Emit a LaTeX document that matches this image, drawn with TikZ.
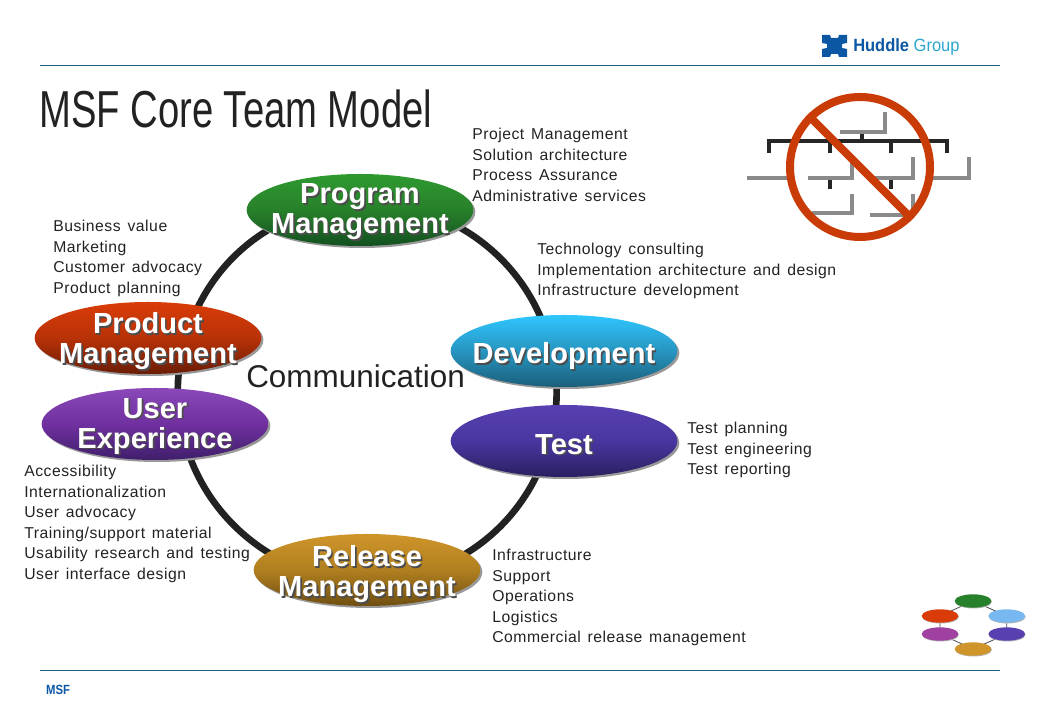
\documentclass[tikz,border=0pt]{standalone}
\usepackage{fontspec}
\setmainfont{Liberation Sans}
\newfontfamily\factfont{Liberation Sans}[LetterSpace=3.3,WordSpace=1.4]
\usetikzlibrary{shapes.geometric,shadows,backgrounds}
\definecolor{rulecol}{HTML}{1F5F80}
\definecolor{ringcol}{HTML}{222222}
\definecolor{signcol}{HTML}{C93C08}
\definecolor{orgcol}{HTML}{8A8A8A}
\definecolor{logocol}{HTML}{0B57A4}
\definecolor{logolight}{HTML}{2AA5CF}
\definecolor{bodycol}{HTML}{222222}
\definecolor{progtop}{HTML}{2F9A30}
\definecolor{progmid}{HTML}{27802A}
\definecolor{progbot}{HTML}{135020}
\definecolor{prodtop}{HTML}{D93C08}
\definecolor{prodmid}{HTML}{B83208}
\definecolor{prodbot}{HTML}{6A1C05}
\definecolor{usertop}{HTML}{8A48B8}
\definecolor{usermid}{HTML}{7030A0}
\definecolor{userbot}{HTML}{3F1F6B}
\definecolor{devtop}{HTML}{2FC6FF}
\definecolor{devmid}{HTML}{2795C0}
\definecolor{devbot}{HTML}{1A5F7A}
\definecolor{testtop}{HTML}{5840B0}
\definecolor{testmid}{HTML}{4A36A0}
\definecolor{testbot}{HTML}{2A1F60}
\definecolor{reltop}{HTML}{CF952A}
\definecolor{relmid}{HTML}{B07F20}
\definecolor{relbot}{HTML}{6F4E10}
\definecolor{minisky}{HTML}{78B8F0}
\definecolor{minipurple}{HTML}{A040A0}
\newcommand{\teamline}[2][-1.5pt]{\leavevmode\raisebox{#1}[\height][\depth]{\rlap{\kern1.2pt\raisebox{-1.2pt}{\textcolor{black!70}{#2}}}#2}}
\tikzset{
 team/.style={ellipse,inner xsep=-15pt,inner ysep=-15pt,minimum width=170pt,minimum height=54pt,text=white,align=center,
   font=\fontsize{21.8}{22.5}\selectfont\bfseries,
   copy shadow={shadow xshift=1.5pt,shadow yshift=-1.5pt,fill=black!40,draw=none}},
 facts/.style={anchor=north west,inner sep=0pt,align=left,text=bodycol,font=\factfont\fontsize{11.8}{15.4}\selectfont},
 ringline/.style={line width=5pt,ringcol,looseness=.96},
 orgblack/.style={line width=2.6pt,black!85},
 orggray/.style={line width=3pt,orgcol},
 mini/.style={ellipse,inner sep=0pt,minimum width=27.5pt,minimum height=10pt,copy shadow={shadow xshift=.4pt,shadow yshift=-.6pt,fill=black!30,draw=none}},
 miniline/.style={line width=.6pt,black!70}
}
\begin{document}
\begin{tikzpicture}[x=0.75pt,y=0.75pt]
 \useasboundingbox (0,0) rectangle (1040,720);
 \coordinate (topl) at (40,655);
 \coordinate (topr) at (1000,655);
 \coordinate (botl) at (40,50);
 \coordinate (botr) at (1000,50);
 \draw[rulecol,line width=.7pt] (topl) -- (topr);
 \draw[rulecol,line width=.7pt] (botl) -- (botr);
 \fill[logocol] (822,685) -- (830,685) -- (831,682) -- (838,682) -- (839,685) -- (847,685) -- (847,677) -- (842,676)
   -- (842,672) -- (847,671) -- (847,663) -- (839,663) -- (838,666) -- (831,666) -- (830,663) -- (822,663)
   -- (822,671) -- (827,672) -- (827,676) -- (822,677) -- cycle;
 \node[anchor=west,inner sep=0pt,xscale=.93,font=\fontsize{13.3}{15}\selectfont] (logo) at (853,673)
   {\textcolor{logocol}{\bfseries Huddle} \textcolor{logolight}{Group}};
 \node[anchor=west,inner sep=0pt,xscale=.735,text=bodycol,font=\fontsize{39}{42}\selectfont] (title) at (39,611) {MSF Core Team Model};
 \node[anchor=west,inner sep=0pt,text=logocol,xscale=.85,font=\fontsize{10}{12}\selectfont\bfseries] (footer) at (46,30) {MSF};

 \node[team,top color=progtop,bottom color=progbot,middle color=progmid] (program) at (360,510)
   {\teamline[-1.8pt]{Program}\\\teamline[-1.8pt]{Management}};
 \node[team,top color=devtop,bottom color=devbot,middle color=devmid] (development) at (564,369)
   {\teamline[-4.6pt]{Development}};
 \node[team,top color=testtop,bottom color=testbot,middle color=testmid] (test) at (564,279)
   {\teamline[-3pt]{Test}};
 \node[team,top color=reltop,bottom color=relbot,middle color=relmid] (release) at (367,150)
   {\teamline[-4pt]{Release}\\\teamline[-4pt]{Management}};
 \node[team,top color=usertop,bottom color=userbot,middle color=usermid] (user) at (155,296)
   {\teamline[-2.2pt]{User}\\\teamline[-2.2pt]{Experience}};
 \node[team,top color=prodtop,bottom color=prodbot,middle color=prodmid] (product) at (148,382)
   {\teamline[-3pt]{Product}\\\teamline[-3pt]{Management}};
 \begin{scope}[on background layer]
  \draw[ringline] ([yshift=5pt]program.center) to[bend left=40] ([xshift=-9.4pt]development.center);
  \draw[ringline] ([xshift=-9.4pt]development.center) to[bend left=14] ([xshift=-10.9pt]test.center);
  \draw[ringline] ([xshift=-10.9pt]test.center) to[bend left=37.5] ([yshift=-8.2pt]release.center);
  \draw[ringline] ([yshift=-8.2pt]release.center) to[bend left=40] ([xshift=19.5pt]user.center);
  \draw[ringline] ([xshift=19.5pt]user.center) to[bend left=13] ([xshift=28.5pt]product.center);
  \draw[ringline] ([xshift=28.5pt]product.center) to[bend left=36] ([yshift=5pt]program.center);
 \end{scope}

 \node[anchor=west,inner sep=0pt,text=bodycol,font=\fontsize{23.6}{26}\selectfont] (comm) at (246,344) {Communication};

 \node[facts] (programfacts) at (472,592) {Project Management\\Solution architecture\\Process Assurance\\Administrative services};
 \node[facts] (devfacts) at (537,477) {Technology consulting\\Implementation architecture and design\\Infrastructure development};
 \node[facts] (testfacts) at (687,298) {Test planning\\Test engineering\\Test reporting};
 \node[facts] (releasefacts) at (492,171) {Infrastructure\\Support\\Operations\\Logistics\\Commercial release management};
 \node[facts] (userfacts) at (24,255) {Accessibility\\Internationalization\\User advocacy\\Training/support material\\Usability research and testing\\User interface design};
 \node[facts] (productfacts) at (53,500) {Business value\\Marketing\\Customer advocacy\\Product planning};

 \foreach \xa/\xb/\yy/\ya in {840/885/588/608,747/790/542/542,808/852/542/563,870/913/542/563,925/969/542/563,812/852/507/526,870/913/505/526}
  \draw[orggray] (\xa,\yy) -- (\xb,\yy) -- (\xb,\ya);
 \draw[orgblack] (769,567) -- (769,579) -- (947,579) -- (947,567);
 \draw[orgblack] (862,586) -- (862,579);
 \foreach \xa in {830,891} {
  \draw[orgblack] (\xa,579) -- (\xa,567);
  \draw[orgblack] (\xa,540) -- (\xa,531);
 }
 \node[circle,draw=signcol,line width=6pt,minimum size=105pt,inner sep=0pt] (nosign) at (860,553) {};
 \draw[signcol,line width=6pt] (nosign.135) -- (nosign.-45);

 \foreach \name/\x/\y/\col in {a/973/119/progmid,b/1006.7/104/minisky,c/1006.7/86/testtop,d/973/71/reltop,e/940/86/minipurple,f/940/104/prodtop}
  \node[mini,fill=\col] (mini\name) at (\x,\y) {};
 \begin{scope}[on background layer]
  \draw[miniline] (minia.center) -- (minib.center) -- (minic.center) -- (minid.center) -- (minie.center) -- (minif.center) -- (minia.center);
 \end{scope}
\end{tikzpicture}
\end{document}
